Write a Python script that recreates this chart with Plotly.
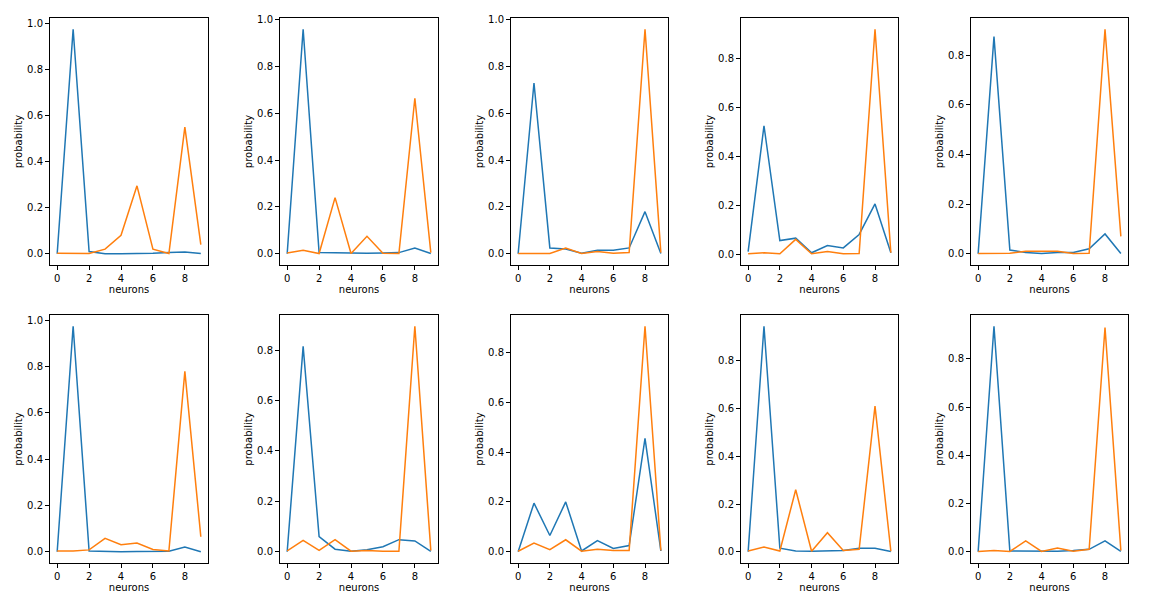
import plotly.graph_objects as go
from plotly.subplots import make_subplots

neurons = list(range(10))

# blue / orange probability curves, top row then bottom row
blue = [
    [0, 0.975, 0.01, 0, 0, 0, 0.002, 0.005, 0.008, 0.001],
    [0, 0.96, 0.005, 0.003, 0.001, 0.002, 0.003, 0.005, 0.025, 0.001],
    [0, 0.73, 0.025, 0.02, 0.002, 0.015, 0.015, 0.025, 0.18, 0.001],
    [0.01, 0.525, 0.055, 0.065, 0.005, 0.035, 0.025, 0.08, 0.205, 0.005],
    [0, 0.875, 0.015, 0.005, 0.001, 0.005, 0.005, 0.02, 0.08, 0.001],
    [0, 0.975, 0.003, 0.001, 0, 0.001, 0.001, 0.002, 0.02, 0],
    [0, 0.815, 0.06, 0.01, 0.002, 0.008, 0.02, 0.048, 0.043, 0.001],
    [0, 0.195, 0.065, 0.2, 0.003, 0.045, 0.013, 0.025, 0.455, 0.003],
    [0, 0.945, 0.015, 0.003, 0.002, 0.002, 0.005, 0.015, 0.015, 0.001],
    [0, 0.935, 0.003, 0.002, 0.001, 0.002, 0.005, 0.01, 0.045, 0.001],
]
orange = [
    [0.002, 0.001, 0.001, 0.02, 0.08, 0.295, 0.02, 0.001, 0.55, 0.04],
    [0.003, 0.015, 0.001, 0.24, 0.001, 0.075, 0.002, 0.001, 0.665, 0.005],
    [0.001, 0.001, 0.001, 0.025, 0.001, 0.01, 0.002, 0.005, 0.96, 0.005],
    [0.001, 0.005, 0.001, 0.06, 0.001, 0.01, 0.001, 0.002, 0.92, 0.005],
    [0.001, 0.001, 0.002, 0.01, 0.01, 0.01, 0.001, 0.002, 0.905, 0.07],
    [0.003, 0.003, 0.008, 0.058, 0.03, 0.038, 0.01, 0.003, 0.78, 0.065],
    [0.003, 0.045, 0.005, 0.048, 0.002, 0.005, 0.002, 0.002, 0.895, 0.005],
    [0.002, 0.035, 0.008, 0.048, 0.002, 0.01, 0.005, 0.005, 0.905, 0.005],
    [0.003, 0.02, 0.003, 0.26, 0.002, 0.08, 0.005, 0.01, 0.61, 0.002],
    [0.001, 0.005, 0.001, 0.045, 0.001, 0.015, 0.002, 0.01, 0.93, 0.005],
]

W, H = 1170, 592
x_px = [(42, 200), (272, 430), (503, 660), (733, 890), (963, 1120)]
y_px = [(10, 257), (307, 555)]

fig = make_subplots(rows=2, cols=5)
axis_font = dict(family='DejaVu Sans', size=10, color='black')

for i in range(10):
    r, c = i // 5, i % 5
    row, col = r + 1, c + 1
    fig.add_trace(go.Scatter(x=neurons, y=blue[i], mode='lines',
                             line=dict(color='#1f77b4', width=1.5), showlegend=False),
                  row=row, col=col)
    fig.add_trace(go.Scatter(x=neurons, y=orange[i], mode='lines',
                             line=dict(color='#ff7f0e', width=1.5), showlegend=False),
                  row=row, col=col)
    ymax = max(max(blue[i]), max(orange[i]))
    ymin = min(min(blue[i]), min(orange[i]))
    span = ymax - ymin
    common = dict(showline=True, linecolor='black', linewidth=1, mirror=True,
                  ticks='outside', ticklen=4, tickcolor='black', showgrid=False,
                  zeroline=False, tickfont=axis_font, automargin=False)
    fig.update_xaxes(range=[-0.45, 9.45], tickvals=[0, 2, 4, 6, 8],
                     domain=[x_px[c][0] / W, x_px[c][1] / W],
                     title=dict(text='neurons', font=axis_font, standoff=2),
                     row=row, col=col, **common)
    fig.update_yaxes(range=[ymin - 0.05 * span, ymax + 0.05 * span], dtick=0.2,
                     tickformat='.1f',
                     domain=[1 - y_px[r][1] / H, 1 - y_px[r][0] / H],
                     title=dict(text='probability', font=axis_font, standoff=2),
                     row=row, col=col, **common)

fig.update_layout(width=W, height=H, margin=dict(l=0, r=0, t=0, b=0),
                  plot_bgcolor='white', paper_bgcolor='white',
                  font=dict(family='DejaVu Sans'))

fig.write_html("out.html")
